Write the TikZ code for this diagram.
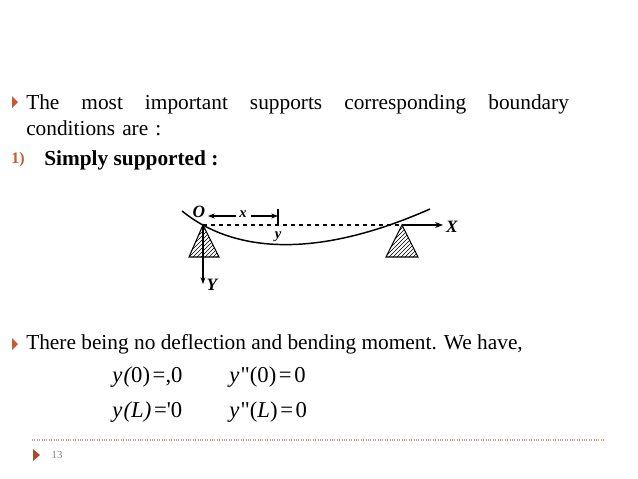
\documentclass[tikz,border=0pt]{standalone}
\usepackage{fontspec}
\setmainfont{Liberation Serif}
\usetikzlibrary{patterns,arrows.meta}
\definecolor{bul}{RGB}{200,90,50}
\definecolor{dots}{RGB}{215,150,130}
\begin{document}
\begin{tikzpicture}[x=0.75pt,y=-0.75pt,
  body/.style={font=\fontsize{16pt}{20pt}\selectfont,inner sep=0pt},
  eq/.style={font=\itshape\fontsize{17pt}{20pt}\selectfont,inner sep=0pt,anchor=west},
  lab/.style={font=\bfseries\itshape\fontsize{11pt}{12pt}\selectfont,inner sep=0pt},
  big/.style={font=\itshape\bfseries\fontsize{13pt}{14pt}\selectfont,inner sep=0pt},
  bullet/.style={fill=bul,draw=none},
  support/.style={draw,thick,pattern=north east lines}]
\useasboundingbox (0,0) rectangle (638,478);
% bullets
\fill[bullet] (12,96) -- (18,102) -- (12,108) -- cycle;
\node[body,anchor=north west,text width=407pt,align=left] (t1) at (26,94)
 {\hbox to 407pt{The\hfill most\hfill important\hfill supports\hfill corresponding\hfill boundary}\\conditions are :};
\node[body,anchor=west,text=bul,font=\bfseries\fontsize{12pt}{13pt}\selectfont] (n1) at (11,160) {1)};
\node[body,anchor=west,font=\bfseries\fontsize{16pt}{20pt}\selectfont] (s1) at (44,160) {Simply supported :};
\fill[bullet] (12,338) -- (18,344) -- (12,350) -- cycle;
\node[body,anchor=west] (t2) at (26,344) {There being no deflection and bending moment. We have,};
% figure
\coordinate (A) at (203,225);
\coordinate (B) at (402,225);
\draw[support] (A) -- (189,257) -- (219,257) -- cycle;
\draw[support] (B) -- (386,257) -- (418,257) -- cycle;
\draw[line width=1.1pt] (182,211) .. controls (230,250) and (310,262) .. (430,209);
\draw[thick,dashed] (A) -- (B);
\draw[thick,-{Stealth[length=6pt]}] (B) -- (443,225);
\node[big] (X) at (452,227) {X};
\node[big] (O) at (199,212) {O};
\draw[thick,-{Stealth[length=5pt]}] (A) -- (203,284);
\node[big] (Y) at (212,285) {Y};
\coordinate (T) at (278,216);
\draw[thick] (278,209) -- (278,225);
\node[lab] (xl) at (243,214) {x};
\draw[thick,-{Stealth[length=5pt]}] (236,216) -- (208,216);
\draw[thick,-{Stealth[length=5pt]}] (251,216) -- (T);
\node[lab] (yl) at (278,237) {y};
% equations
\node[eq] (e1) at (112,377) {y\kern1pt(\upshape 0)\kern2pt=,0};
\node[eq] (e2) at (229,377) {y\kern1pt\upshape\textquotedbl(0)\kern2pt=\kern2pt0};
\node[eq] (e3) at (112,412) {y\kern1pt(L)\kern2pt\upshape=\textquotesingle0};
\node[eq] (e4) at (229,412) {y\kern1pt\upshape\textquotedbl(\itshape L\upshape)\kern2pt=\kern2pt0};
% footer
\draw[dots,densely dotted,line width=0.8pt] (32,440) -- (605,440);
\fill[bul!85!black] (33,449) -- (40,455) -- (33,461) -- cycle;
\node[font=\fontsize{8pt}{10pt}\selectfont,text=gray,anchor=west] (pg) at (47,455) {13};
\end{tikzpicture}
\end{document}
